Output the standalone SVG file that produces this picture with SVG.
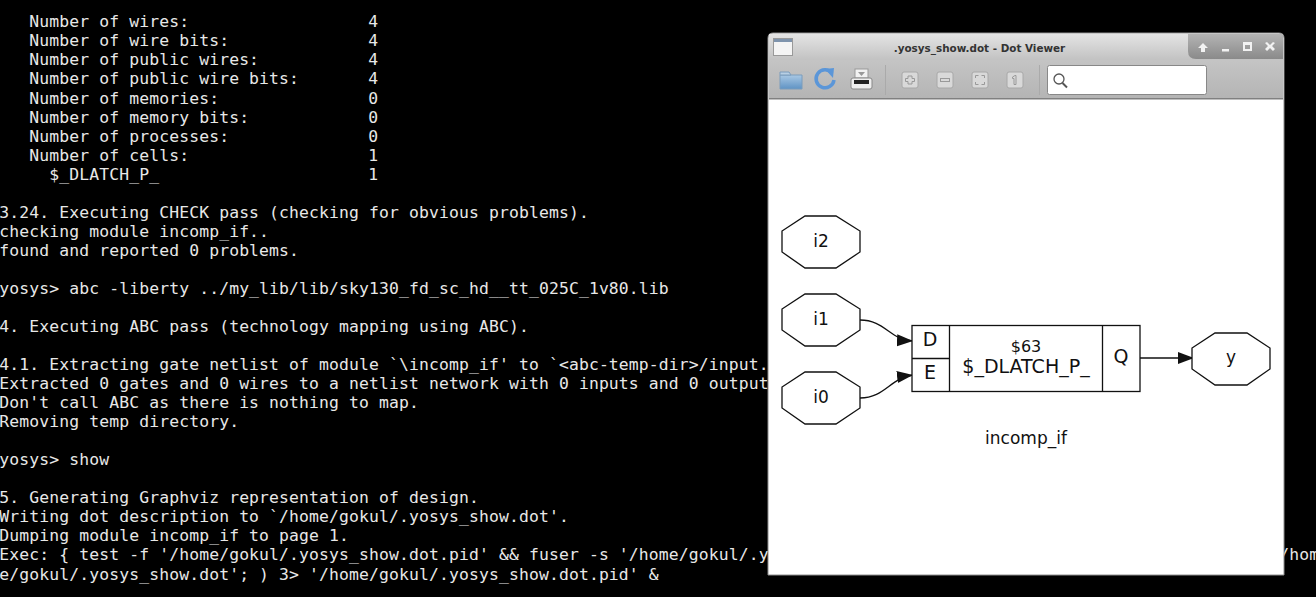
<svg xmlns="http://www.w3.org/2000/svg" width="1316" height="597" viewBox="0 0 1316 597">
<style>
.t{font-family:"DejaVu Sans Mono","Liberation Mono",monospace;font-size:16.4px;letter-spacing:.125px;fill:#e8e8e8;white-space:pre}
.g{font-family:"DejaVu Sans","Liberation Sans",sans-serif;fill:#111;text-anchor:middle}
.s{fill:none;stroke:#111;stroke-width:1.3}
.o{fill:#fff;stroke:#111;stroke-width:1.3}
.b{fill:#d9d9d9;stroke:#a8a8a8;stroke-width:1}
.i{fill:none;stroke:#999;stroke-width:1}
</style>
<defs>
<linearGradient id="tb" x1="0" y1="0" x2="0" y2="1"><stop offset="0" stop-color="#e4e4e4"/><stop offset="1" stop-color="#c2c2c2"/></linearGradient>
<linearGradient id="tl" x1="0" y1="0" x2="0" y2="1"><stop offset="0" stop-color="#cfcfcf"/><stop offset="1" stop-color="#b4b4b4"/></linearGradient>
<linearGradient id="bt" x1="0" y1="0" x2="0" y2="1"><stop offset="0" stop-color="#b4b4b4"/><stop offset="1" stop-color="#8a8a8a"/></linearGradient>
<linearGradient id="fo" x1="0" y1="0" x2="0" y2="1"><stop offset="0" stop-color="#a9c8e4"/><stop offset="1" stop-color="#5f93c4"/></linearGradient>
<marker id="a" markerUnits="userSpaceOnUse" markerWidth="17" markerHeight="14" refX="16" refY="6" orient="auto"><path d="M0 0L16 6L0 12Z" fill="#111"/></marker>
</defs>
<rect width="1316" height="597" fill="#000"/>
<g id="terminal" transform="translate(-0.7 0)">
<text class="t" x="0" y="27">   Number of wires:</text><text class="t" x="369" y="27">4</text>
<text class="t" x="0" y="46">   Number of wire bits:</text><text class="t" x="369" y="46">4</text>
<text class="t" x="0" y="65">   Number of public wires:</text><text class="t" x="369" y="65">4</text>
<text class="t" x="0" y="84">   Number of public wire bits:</text><text class="t" x="369" y="84">4</text>
<text class="t" x="0" y="104">   Number of memories:</text><text class="t" x="369" y="104">0</text>
<text class="t" x="0" y="123">   Number of memory bits:</text><text class="t" x="369" y="123">0</text>
<text class="t" x="0" y="142">   Number of processes:</text><text class="t" x="369" y="142">0</text>
<text class="t" x="0" y="161">   Number of cells:</text><text class="t" x="369" y="161">1</text>
<text class="t" x="0" y="180">     $_DLATCH_P_</text><text class="t" x="369" y="180">1</text>
<text class="t" x="0" y="218">3.24. Executing CHECK pass (checking for obvious problems).</text>
<text class="t" x="0" y="237">checking module incomp_if..</text>
<text class="t" x="0" y="256">found and reported 0 problems.</text>
<text class="t" x="0" y="294">yosys&gt; abc -liberty ../my_lib/lib/sky130_fd_sc_hd__tt_025C_1v80.lib</text>
<text class="t" x="0" y="332">4. Executing ABC pass (technology mapping using ABC).</text>
<text class="t" x="0" y="370">4.1. Extracting gate netlist of module `\incomp_if' to `&lt;abc-temp-dir&gt;/input.</text>
<text class="t" x="0" y="389">Extracted 0 gates and 0 wires to a netlist network with 0 inputs and 0 output</text>
<text class="t" x="0" y="408">Don't call ABC as there is nothing to map.</text>
<text class="t" x="0" y="427">Removing temp directory.</text>
<text class="t" x="0" y="465">yosys&gt; show</text>
<text class="t" x="0" y="503">5. Generating Graphviz representation of design.</text>
<text class="t" x="0" y="522">Writing dot description to `/home/gokul/.yosys_show.dot'.</text>
<text class="t" x="0" y="541">Dumping module incomp_if to page 1.</text>
<text class="t" x="0" y="560">Exec: { test -f '/home/gokul/.yosys_show.dot.pid' &amp;&amp; fuser -s '/home/gokul/.y</text>
<text class="t" x="1280" y="560">/hom</text>
<text class="t" x="0" y="580">e/gokul/.yosys_show.dot'; ) 3&gt; '/home/gokul/.yosys_show.dot.pid' &amp;</text>
</g>
<g id="window">
<path d="M768 575V38q0-5 5-5H1279q5 0 5 5V575Z" fill="#fff" stroke="#8e8e8e"/>
<path d="M769 34H1283V99H769Z" fill="url(#tl)"/>
<path d="M769 34H1283V60H769Z" fill="url(#tb)"/>
<path d="M1188 34H1283V59H1196q-8 0-8-8Z" fill="url(#bt)"/>
<rect x="769" y="98" width="514" height="1.5" fill="#808080"/>
<rect x="773.500" y="38.500" width="19" height="17" fill="#f4f4f4" stroke="#999"/>
<rect x="774" y="39" width="18" height="3" fill="#7f94ad"/>
<text x="979.500" y="52" font-family="'DejaVu Sans','Liberation Sans',sans-serif" font-size="10.400" font-weight="bold" fill="#333" text-anchor="middle">.yosys_show.dot - Dot Viewer</text>
<g fill="#f2f2f2"><path d="M1203 43l-5 5h3v4h4v-4h3Z"/><rect x="1222" y="49" width="7" height="2.500"/><path d="M1243 42h9v9h-9ZM1245 45v4h5v-4Z" fill-rule="evenodd"/><path d="M1265 43l2-1 3 3 3-3 2 1-3 3 3 3-2 2-3-3-3 3-2-2 3-3Z"/></g>
<path d="M780 75h22v14h-22Z" fill="url(#fo)" stroke="#7a9cbc"/><path d="M780 75v-3h9l2 3Z" fill="#b8cfe4" stroke="#7a9cbc"/>
<path d="M832 73a9 9 0 1 0 2 7" fill="none" stroke="#5b96d8" stroke-width="3.500"/><path d="M825 69l9-1 -1 10Z" fill="#5b96d8"/>
<rect x="855" y="69" width="13" height="9" fill="#f2f2f2" stroke="#999"/><path d="M858 72h7l-3.500 4Z" fill="#999"/><rect x="851" y="78" width="21" height="11" rx="2" fill="#eee" stroke="#888"/><rect x="854" y="80" width="15" height="4" fill="#222"/>
<path d="M885.500 65V95M1039.500 65V95" stroke="#aaa"/>
<rect x="902" y="72" width="16" height="16" rx="2" class="b"/><path d="M908 76h4v2.500h2.500v3H912V84h-4v-2.500h-2.500v-3H908Z" class="i"/>
<rect x="937" y="72" width="16" height="16" rx="2" class="b"/><rect x="940.500" y="78.500" width="9" height="3" class="i"/>
<rect x="972" y="72" width="16" height="16" rx="2" class="b"/><path d="M975.500 78v-2.500h3M981.500 75.500h3V78M984.500 82v2.500h-3M978.500 84.500h-3V82" class="i"/>
<rect x="1007" y="72" width="16" height="16" rx="2" class="b"/><path d="M1012.500 77l2.500-1.500h1v9h-2v-6h-1.500Z" class="i"/>
<rect x="1047.500" y="65.500" width="159" height="29" rx="2" fill="#fff" stroke="#888"/>
<circle cx="1059" cy="79" r="5" fill="none" stroke="#555" stroke-width="1.300"/><path d="M1062.500 83l4.500 4.500" stroke="#555" stroke-width="2"/>
</g>
<g id="connectors" class="s">
<path d="M860 320C885 320 890 340 913 341" marker-end="url(#a)"/>
<path d="M860 398C885 398 890 378 913 375" marker-end="url(#a)"/>
<path d="M1140 358H1194" marker-end="url(#a)"/>
</g>
<g id="i2"><path class="o" d="M860 231V252L836 268H805L782 252V231L805 216H836Z"/><text class="g" x="821" y="247" font-size="17">i2</text></g>
<g id="i1"><path class="o" d="M860 309V330L836 346H805L782 330V309L805 294H836Z"/><text class="g" x="821" y="325" font-size="17">i1</text></g>
<g id="i0"><path class="o" d="M860 387V408L836 424H805L782 408V387L805 372H836Z"/><text class="g" x="821" y="403" font-size="17">i0</text></g>
<g id="y"><path class="o" d="M1270 348V369L1247 385H1215L1192 369V348L1215 333H1247Z"/><text class="g" x="1231" y="363" font-size="17">y</text></g>
<g id="latch"><rect class="o" x="912" y="325.500" width="228" height="66"/><path class="s" d="M949.500 325.500V391.500M912 358.500H949.500M1102.500 325.500V391.500"/>
<text class="g" x="930" y="346" font-size="19">D</text><text class="g" x="930" y="379" font-size="19">E</text><text class="g" x="1121" y="363" font-size="19">Q</text>
<text class="g" x="1026" y="352" font-size="16">$63</text><text class="g" x="1026" y="373" font-size="19">$_DLATCH_P_</text></g>
<g id="label"><text class="g" x="1026" y="444" font-size="17">incomp_if</text></g>
</svg>
